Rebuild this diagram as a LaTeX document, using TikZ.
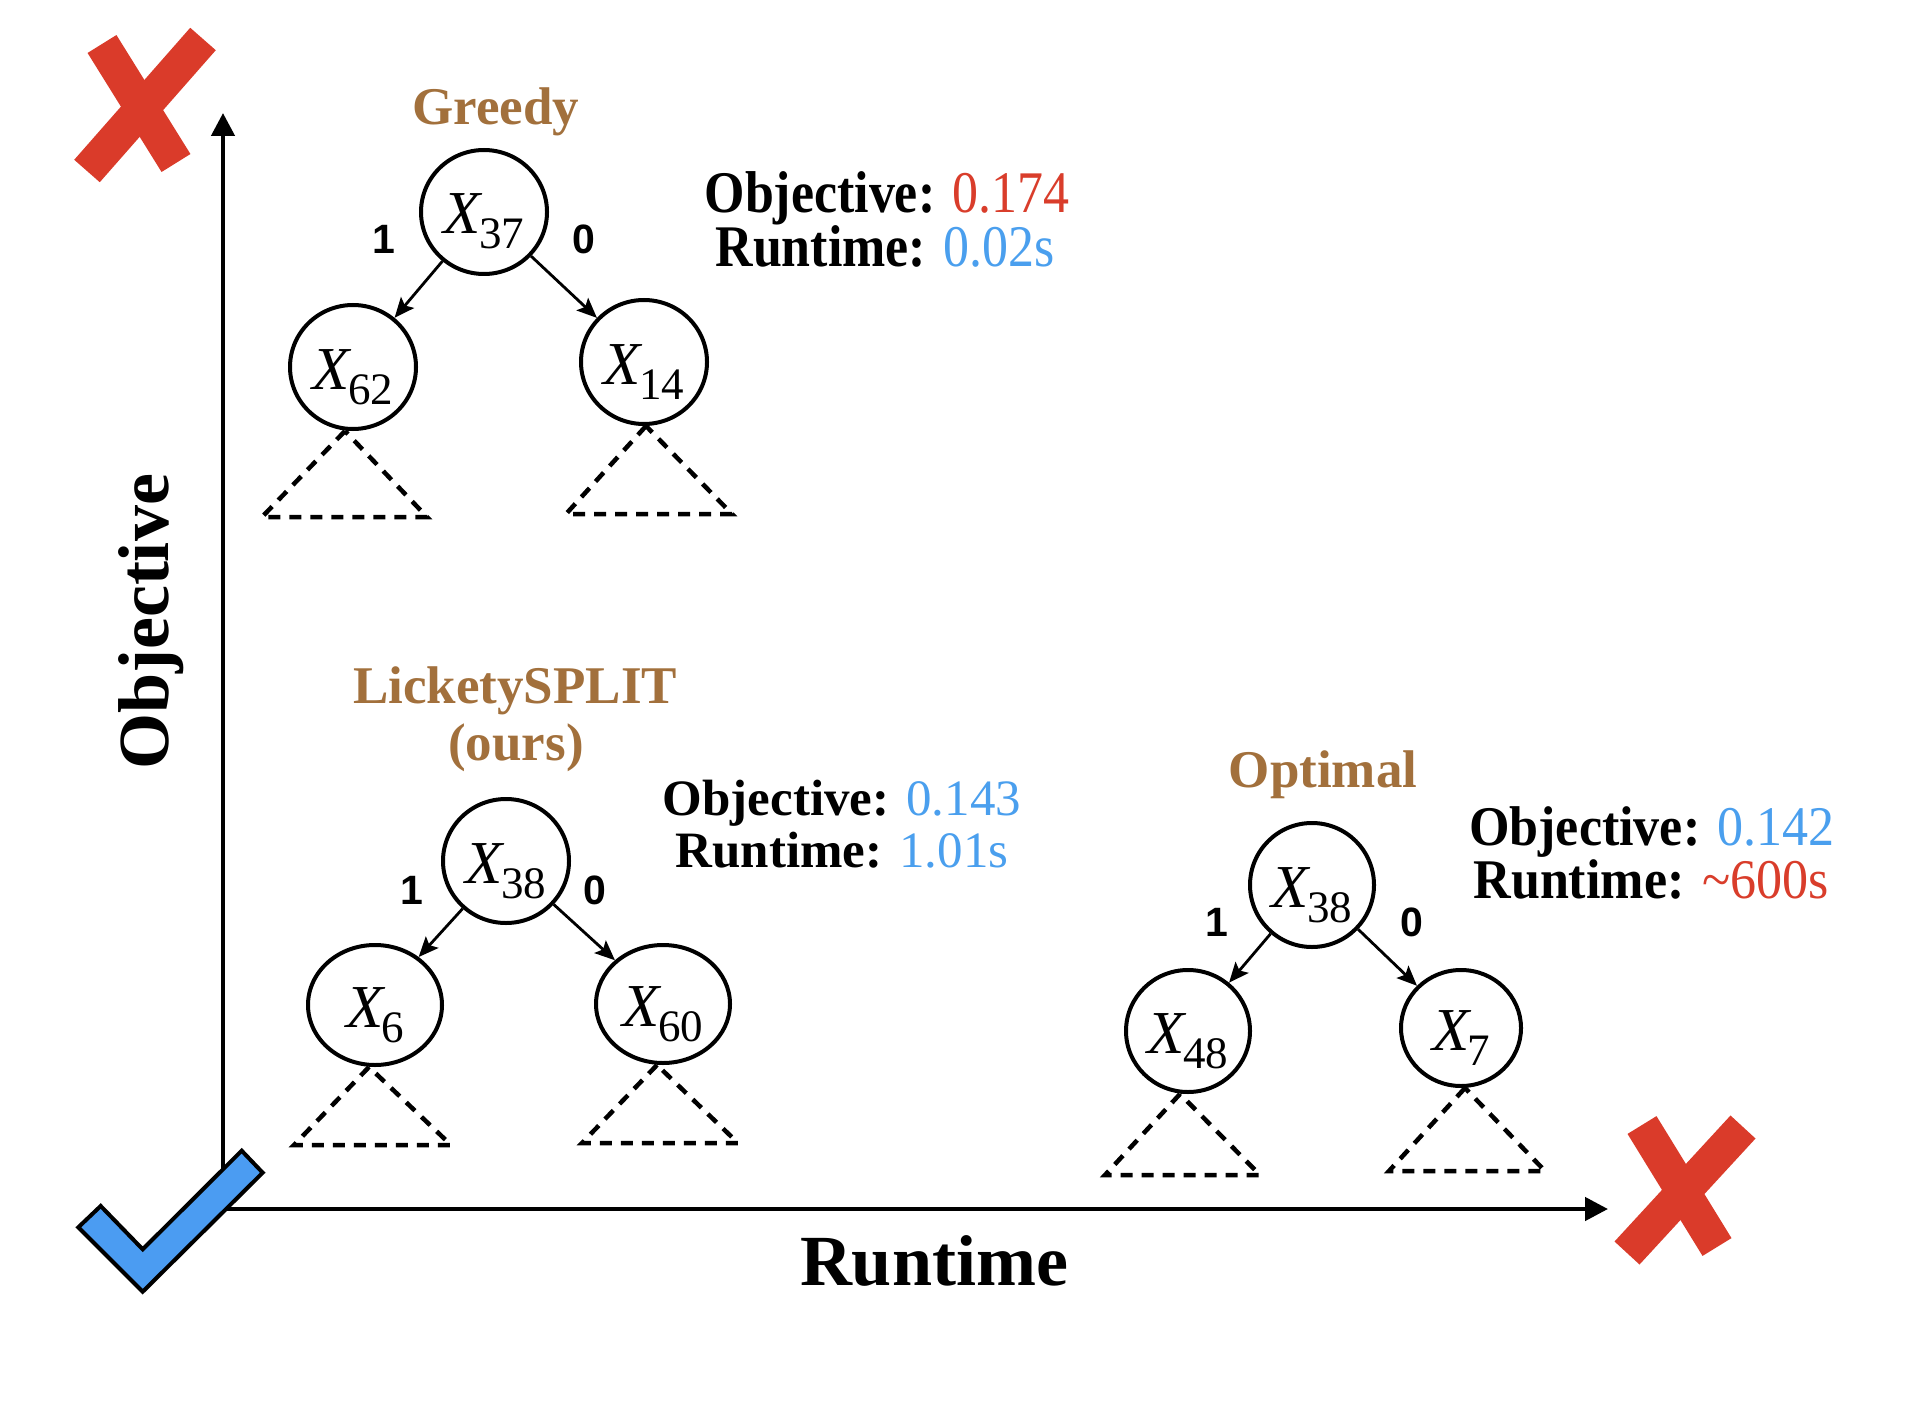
\documentclass[tikz,border=0pt]{standalone}
\usepackage{fontspec}
\setmainfont{Liberation Serif}
\newfontfamily\labelsans{Liberation Sans}
\usetikzlibrary{arrows.meta,shapes.geometric}
\definecolor{titlebrown}{HTML}{A2703C}
\definecolor{valred}{HTML}{D93D2B}
\definecolor{valblue}{HTML}{4A9FEE}
\definecolor{checkblue}{HTML}{4B9CF2}
\definecolor{crossred}{HTML}{DA3B2A}
\newcommand{\Xlab}[1]{\raisebox{-22pt}[0pt][0pt]{\fontsize{61}{61}\selectfont\textit{X}\kern-4pt\raisebox{-15pt}{\fontsize{45}{45}\selectfont #1}}}
\newcommand{\statline}[4]{\scalebox{#1}[1]{\fontsize{#2}{#2}\selectfont\textbf{#3} #4}}
\begin{document}
\begin{tikzpicture}[x=1pt,y=-1pt,
  feat/.style={draw, ellipse, line width=4pt, inner sep=0pt, minimum width=126pt, minimum height=124pt},
  treeedge/.style={line width=2.8pt, -{Stealth[length=20pt,width=17pt,inset=4pt]}},
  branch/.style={font=\labelsans\fontsize{41}{41}\selectfont\bfseries},
  title/.style={anchor=base, text=titlebrown, font=\fontsize{53}{60}\selectfont\bfseries},
  stat/.style={anchor=base, inner sep=0pt},
  subtree/.style={line width=4.5pt, dash pattern=on 12pt off 9pt},
  axisarrow/.style={line width=4.5pt, -{Triangle[length=23pt,width=23pt]}},
  axislabel/.style={font=\fontsize{72}{80}\selectfont\bfseries, anchor=base},
  crossstroke/.style={line width=34pt, crossred}
]
\fill[white] (0,0) rectangle (1924,1404);
\useasboundingbox (0,0) rectangle (1924,1404);

% axes
\coordinate (origin) at (223,1209);
\coordinate (ytip) at (223,113);
\coordinate (xtip) at (1608,1209);
\draw[axisarrow] ([yshift=-2.25pt]origin) -- (ytip);
\draw[axisarrow] (origin) -- (xtip);
\node[axislabel, rotate=90] (ylab) at (168,622) {Objective};
\node[axislabel] (xlab) at (934,1285) {Runtime};

% Greedy
\node[title] (gtitle) at (496,125) {Greedy};
\node[feat] (g0) at (484,212) {\Xlab{37}};
\node[feat] (g1) at (353,367) {\Xlab{62}};
\node[feat] (g2) at (644,362) {\Xlab{14}};
\draw[treeedge] (g0) -- (g1);
\draw[treeedge] (g0) -- (g2);
\node[branch] (g1l) at (384,239) {1};
\node[branch] (g2l) at (584,239) {0};
\draw[subtree] ([xshift=-8pt]g1.south) -- ++(-83,86) -- ++(165,0) -- cycle;
\draw[subtree] ([xshift=2pt]g2.south) -- ++(-80,88) -- ++(166,0) -- cycle;
\node[stat] (gobj) at (887,213) {\statline{0.88}{59}{Objective:}{\textcolor{valred}{0.174}}};
\node[stat] (grun) at (885,267) {\statline{0.88}{59}{Runtime:}{\textcolor{valblue}{0.02s}}};

% LicketySPLIT
\node[title] (ltitle) at (515,703) {LicketySPLIT};
\node[title] (lours) at (516,760) {(ours)};
\node[feat] (l0) at (506,861) {\Xlab{38}};
\node[feat, minimum width=134pt, minimum height=120pt] (l1) at (375,1005) {\Xlab{6}};
\node[feat, minimum width=134pt, minimum height=118pt] (l2) at (663,1004) {\Xlab{60}};
\draw[treeedge] (l0) -- (l1);
\draw[treeedge] (l0) -- (l2);
\node[branch] (l1l) at (412,890) {1};
\node[branch] (l2l) at (595,890) {0};
\draw[subtree] ([xshift=-6pt]l1.south) -- ++(-75,78) -- ++(157,0) -- cycle;
\draw[subtree] ([xshift=-6pt]l2.south) -- ++(-75,78) -- ++(156,0) -- cycle;
\node[stat] (lobj) at (842,815) {\statline{1}{51}{Objective:}{\textcolor{valblue}{0.143}}};
\node[stat] (lrun) at (842,867) {\statline{1}{51}{Runtime:}{\textcolor{valblue}{1.01s}}};

% Optimal
\node[title] (otitle) at (1323,787) {Optimal};
\node[feat, minimum width=124pt, minimum height=124pt] (o0) at (1312,885) {\Xlab{38}};
\node[feat, minimum width=124pt, minimum height=122pt] (o1) at (1188,1031) {\Xlab{48}};
\node[feat, minimum width=120pt, minimum height=116pt] (o2) at (1461,1028) {\Xlab{7}};
\draw[treeedge] (o0) -- (o1);
\draw[treeedge] (o0) -- (o2);
\node[branch] (o1l) at (1217,922) {1};
\node[branch] (o2l) at (1412,922) {0};
\draw[subtree] ([xshift=-8pt]o1.south) -- ++(-75,81) -- ++(155,0) -- cycle;
\draw[subtree] ([xshift=4pt]o2.south) -- ++(-76,83) -- ++(156,0) -- cycle;
\node[stat] (oobj) at (1652,845) {\statline{0.93}{56}{Objective:}{\textcolor{valblue}{0.142}}};
\node[stat] (orun) at (1651,898) {\statline{0.93}{56}{Runtime:}{\textcolor{valred}{\textasciitilde600s}}};

% red crosses
\draw[crossstroke] (102,44) -- (176,163);
\draw[crossstroke] (203,39) -- (87,171);
\draw[crossstroke] (1642,1125) -- (1717,1247);
\draw[crossstroke] (1743,1127) -- (1627,1253);

% check mark
\filldraw[fill=checkblue, draw=black, line width=4pt, line join=miter]
  (78.3,1227.3) -- (100.7,1206) -- (142.7,1249.3) -- (241.7,1150.7) -- (262.7,1172.7) -- (142.7,1291.7) -- cycle;
\end{tikzpicture}
\end{document}
